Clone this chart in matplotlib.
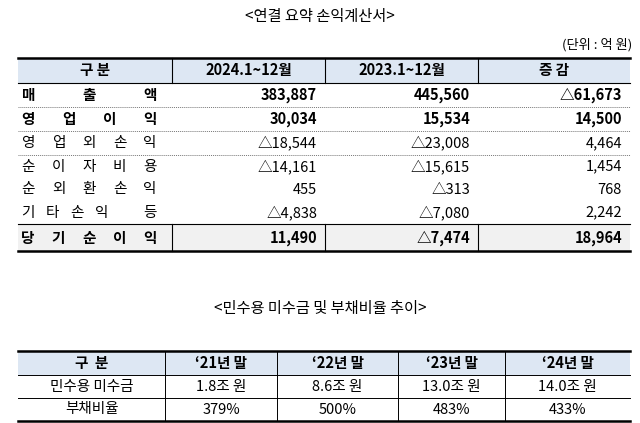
import matplotlib
matplotlib.use("Agg")
import matplotlib.pyplot as plt
from matplotlib.patches import Rectangle
from matplotlib import font_manager as fm

cands = ["Noto Sans CJK KR", "Noto Sans CJK JP", "Noto Sans CJK SC", "Noto Sans CJK TC"]
names = {f.name for f in fm.fontManager.ttflist}
for p in fm.findSystemFonts():
    if "CJK" in p or "Noto" in p:
        try:
            fm.fontManager.addfont(p)
        except Exception:
            pass
names = {f.name for f in fm.fontManager.ttflist}
fam = [c for c in cands if c in names] + [n for n in names if "CJK" in n] + ["DejaVu Sans"]
plt.rcParams["font.family"] = fam

title1 = "<연결 요약 손익계산서>"
unit = "(단위 : 억 원)"
headers1 = ["구 분", "2024.1~12월", "2023.1~12월", "증 감"]
row_labels = [["매", "출", "액"], ["영", "업", "이", "익"], ["영", "업", "외", "손", "익"],
              ["순", "이", "자", "비", "용"], ["순", "외", "환", "손", "익"],
              ["기", "타", "손", "익", "", "등"], ["당", "기", "순", "이", "익"]]
bold_rows = [0, 1, 6]
col2024 = ["383,887", "30,034", "△18,544", "△14,161", "455", "△4,838", "11,490"]
col2023 = ["445,560", "15,534", "△23,008", "△15,615", "△313", "△7,080", "△7,474"]
coldiff = ["△61,673", "14,500", "4,464", "1,454", "768", "2,242", "18,964"]

title2 = "<민수용 미수금 및 부채비율 추이>"
headers2 = ["구  분", "‘21년 말", "‘22년 말", "‘23년 말", "‘24년 말"]
labels2 = ["민수용 미수금", "부채비율"]
receivables = ["1.8조 원", "8.6조 원", "13.0조 원", "14.0조 원"]
debt_ratio = ["379%", "500%", "483%", "433%"]

W, H = 640, 423
fig = plt.figure(figsize=(6.4, 4.23), dpi=100)
ax = fig.add_axes([0, 0, 1, 1])
ax.set_xlim(0, W); ax.set_ylim(H, 0); ax.axis("off")
FS = 10.5
HEAD = "#dde7f3"

ax.text(320, 17, title1, ha="center", va="center", fontsize=11)
ax.text(632, 45, unit, ha="right", va="center", fontsize=9.5)

# Table 1
cx = [18, 172, 325, 478, 630]
ry = [58, 83, 107, 131, 155, 178, 201, 224, 251]
ax.add_patch(Rectangle((cx[0], ry[0]), cx[-1]-cx[0], ry[1]-ry[0], color=HEAD, lw=0))
ax.add_patch(Rectangle((cx[0], ry[7]), cx[-1]-cx[0], ry[8]-ry[7], color="#f1f1f1", lw=0))
ax.plot([cx[0], cx[-1]], [ry[0], ry[0]], color="k", lw=1.8)
ax.plot([cx[0], cx[-1]], [ry[8], ry[8]], color="k", lw=1.8)
ax.plot([cx[0], cx[-1]], [ry[1], ry[1]], color="k", lw=0.8)
ax.plot([cx[0], cx[-1]], [ry[7], ry[7]], color="k", lw=0.8)
for i in (2, 3, 4):
    ax.plot([cx[0], cx[-1]], [ry[i], ry[i]], color="#777", lw=0.7, ls=(0, (1, 1)))
for x in cx[1:-1]:
    ax.plot([x, x], [ry[0], ry[1]], color="k", lw=0.8)
    ax.plot([x, x], [ry[7], ry[8]], color="k", lw=0.8)
for j, h in enumerate(headers1):
    ax.text((cx[j]+cx[j+1])/2, (ry[0]+ry[1])/2, h, ha="center", va="center",
            fontsize=FS, fontweight="bold")
for i in range(7):
    yc = (ry[i+1]+ry[i+2])/2
    fw = "bold" if i in bold_rows else "normal"
    chars = row_labels[i]
    x0, x1 = 28, 150
    n = len(chars)
    for k, c in enumerate(chars):
        ax.text(x0 + (x1-x0)*k/(n-1), yc, c, ha="center", va="center", fontsize=FS, fontweight=fw)
    for j, col in enumerate([col2024, col2023, coldiff]):
        ax.text(cx[j+2]-8, yc, col[i], ha="right", va="center", fontsize=FS, fontweight=fw)

# Table 2
ax.text(320, 308, title2, ha="center", va="center", fontsize=11)
dx = [18, 165, 277, 398, 505, 630]
dy = [351, 375, 398, 421]
ax.add_patch(Rectangle((dx[0], dy[0]), dx[-1]-dx[0], dy[1]-dy[0], color=HEAD, lw=0))
ax.plot([dx[0], dx[-1]], [dy[0], dy[0]], color="k", lw=1.8)
ax.plot([dx[0], dx[-1]], [dy[3], dy[3]], color="k", lw=1.8)
for y in dy[1:3]:
    ax.plot([dx[0], dx[-1]], [y, y], color="k", lw=0.7)
for x in dx[1:-1]:
    ax.plot([x, x], [dy[0], dy[3]], color="k", lw=0.7)
for j, h in enumerate(headers2):
    ax.text((dx[j]+dx[j+1])/2, (dy[0]+dy[1])/2, h, ha="center", va="center",
            fontsize=FS, fontweight="bold")
for i, vals in enumerate([receivables, debt_ratio]):
    yc = (dy[i+1]+dy[i+2])/2
    ax.text((dx[0]+dx[1])/2, yc, labels2[i], ha="center", va="center", fontsize=FS)
    for j, v in enumerate(vals):
        ax.text((dx[j+1]+dx[j+2])/2, yc, v, ha="center", va="center", fontsize=FS)

fig.savefig("out.png", dpi=100)
